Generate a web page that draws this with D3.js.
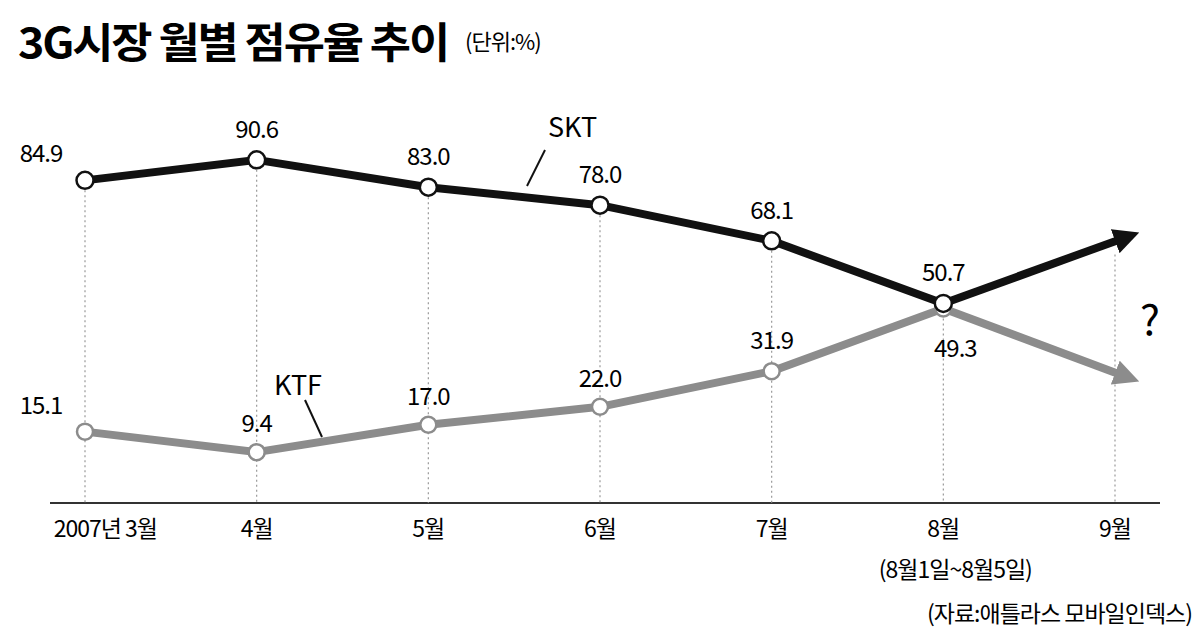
<!DOCTYPE html><html><head><meta charset="utf-8"><script src="https://cdn.jsdelivr.net/npm/d3@7"></script>
<style>body{margin:0;background:#fff}text{font-family:"Noto Sans CJK KR","Liberation Sans Narrow",sans-serif}</style></head><body>
<svg id="c" width="1200" height="630"></svg>
<script>
const months=["2007년 3월","4월","5월","6월","7월","8월","9월"];
const skt=[84.9,90.6,83.0,78.0,68.1,50.7];
const ktf=[15.1,9.4,17.0,22.0,31.9,49.3];
const sktArrow=68.5, ktfArrow=31; // projected arrow heads at 9월
const svg=d3.select("#c");
const x=d3.scalePoint().domain(d3.range(7)).range([85,1115]);
const y=d3.scaleLinear().domain([0,100]).range([486,126]);
svg.append("text").attr("x",18).attr("y",58).attr("font-size",42).attr("font-weight",700).attr("letter-spacing",-2).attr("textLength",430).attr("lengthAdjust","spacingAndGlyphs").text("3G시장 월별 점유율 추이");
svg.append("text").attr("x",465).attr("y",50).attr("font-size",22).attr("letter-spacing",-1).text("(단위:%)");
svg.append("line").attr("x1",50).attr("x2",1160).attr("y1",503).attr("y2",503).attr("stroke","#333").attr("stroke-width",2);
months.forEach((m,i)=>{
  svg.append("text").attr("x",i==0?x(i)+72:x(i)).attr("y",537).attr("text-anchor",i==0?"end":"middle").attr("font-size",23).attr("letter-spacing",-1).text(m);
});
svg.append("text").attr("x",x(5)+12).attr("y",578).attr("text-anchor","middle").attr("font-size",23).attr("letter-spacing",-1).text("(8월1일~8월5일)");
svg.append("text").attr("x",1192).attr("y",622).attr("text-anchor","end").attr("font-size",23).attr("letter-spacing",-1).text("(자료:애틀라스 모바일인덱스)");
d3.range(7).forEach(i=>{
  const top=i<6?y(skt[i]):y(sktArrow)+15;
  svg.append("line").attr("x1",x(i)).attr("x2",x(i)).attr("y1",top).attr("y2",503).attr("stroke","#999").attr("stroke-width",1.2).attr("stroke-dasharray","2,3");
});
const defs=svg.append("defs");
[["a1","#111"],["a2","#8c8c8c"]].forEach(([id,c])=>defs.append("marker").attr("id",id).attr("viewBox","0 0 10 10").attr("refX",2).attr("refY",5).attr("markerWidth",3.2).attr("markerHeight",3.2).attr("orient","auto").attr("markerUnits","strokeWidth").append("path").attr("d","M0,0L10,5L0,10z").attr("fill",c));
const line=d3.line().x(d=>d[0]).y(d=>d[1]);
function series(vals,arrow,color,mk){
  svg.append("path").attr("d",line([[x(5),y(vals[5])],[x(6)+5,y(arrow)]])).attr("stroke",color).attr("stroke-width",8).attr("fill","none").attr("marker-end",`url(#${mk})`);
  svg.append("path").attr("d",line(vals.map((v,i)=>[x(i),y(v)]))).attr("stroke",color).attr("stroke-width",8).attr("fill","none").attr("stroke-linejoin","round");
}
series(ktf,ktfArrow,"#8c8c8c","a2");
series(skt,sktArrow,"#111","a1");
ktf.forEach((v,i)=>svg.append("circle").attr("cx",x(i)).attr("cy",y(v)).attr("r",8).attr("fill","#fff").attr("stroke","#8c8c8c").attr("stroke-width",2.5));
skt.forEach((v,i)=>svg.append("circle").attr("cx",x(i)).attr("cy",y(v)).attr("r",8.5).attr("fill","#fff").attr("stroke","#111").attr("stroke-width",2.5));
const fmt=d3.format(".1f");
const sOff=[[-44,-18],[0,-22],[0,-22],[0,-22],[0,-22],[0,-22]];
skt.forEach((v,i)=>svg.append("text").attr("x",x(i)+sOff[i][0]).attr("y",y(v)+sOff[i][1]).attr("text-anchor","middle").attr("font-size",24).attr("letter-spacing",-1).text(fmt(v)));
const kOff=[[-44,-18],[0,-20],[0,-20],[0,-20],[0,-22],[12,48]];
ktf.forEach((v,i)=>svg.append("text").attr("x",x(i)+kOff[i][0]).attr("y",y(v)+kOff[i][1]).attr("text-anchor","middle").attr("font-size",24).attr("letter-spacing",-1).text(fmt(v)));
svg.append("text").attr("x",548).attr("y",137).attr("font-size",27).text("SKT");
svg.append("line").attr("x1",545).attr("y1",150).attr("x2",527).attr("y2",186).attr("stroke","#111").attr("stroke-width",2);
svg.append("text").attr("x",274).attr("y",395).attr("font-size",27).text("KTF");
svg.append("line").attr("x1",305).attr("y1",400).attr("x2",322).attr("y2",437).attr("stroke","#111").attr("stroke-width",2);
svg.append("text").attr("x",1150).attr("y",335).attr("text-anchor","middle").attr("font-size",42).text("?");
</script></body></html>
